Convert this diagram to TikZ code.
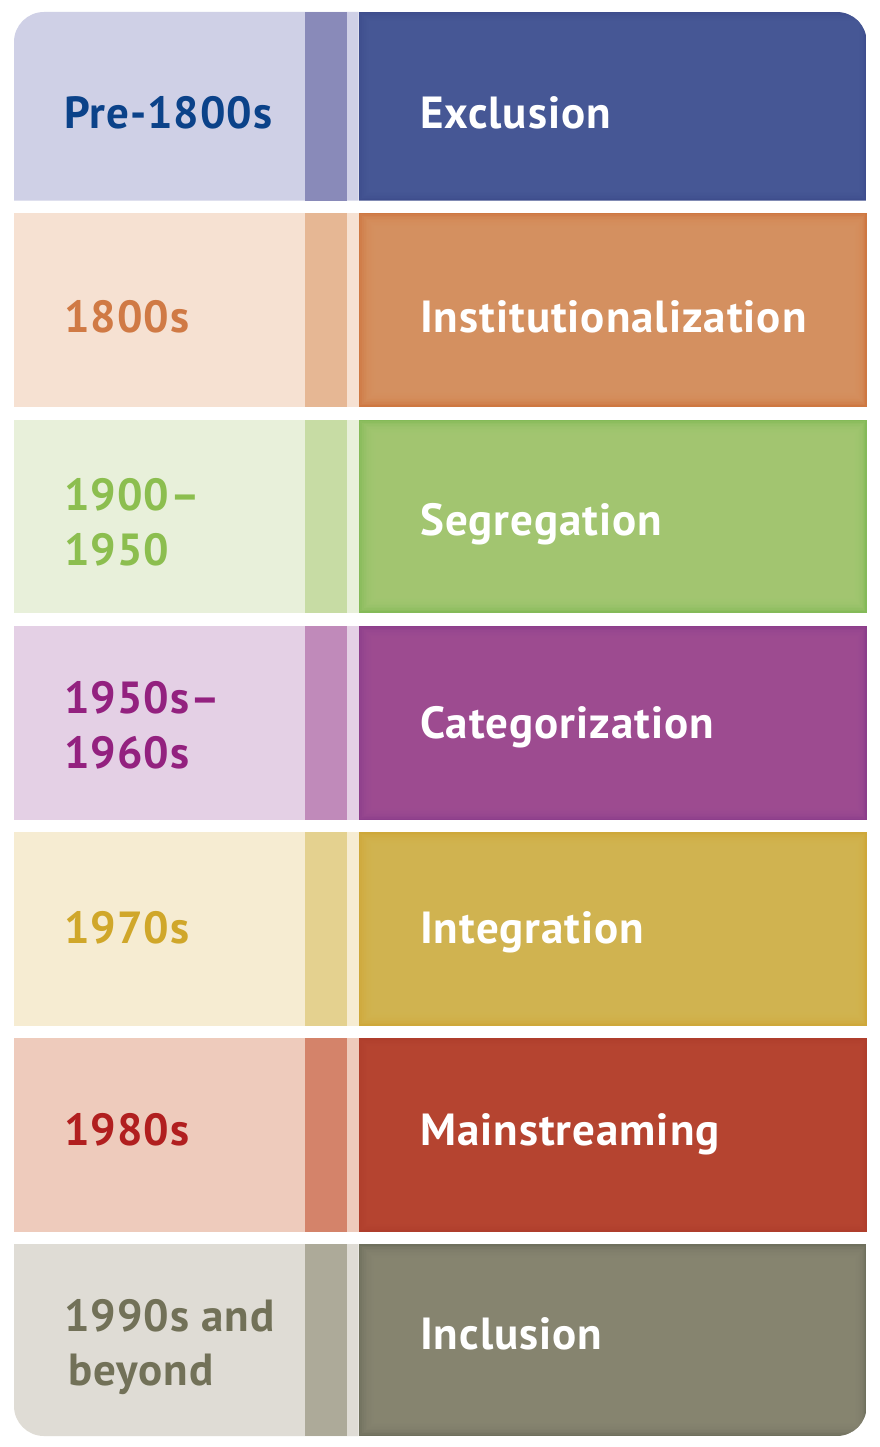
\documentclass[tikz,border=0pt]{standalone}
\usepackage{fontspec}
\setmainfont{PT Sans}[LetterSpace=2.2]
\definecolor{lA}{HTML}{CFD0E6}\definecolor{sA}{HTML}{898AB9}\definecolor{mA}{HTML}{4A5B99}\definecolor{eA}{HTML}{3E4D8C}\definecolor{tA}{HTML}{0B4289}
\definecolor{lB}{HTML}{F6E1D2}\definecolor{sB}{HTML}{E6B794}\definecolor{mB}{HTML}{D89464}\definecolor{eB}{HTML}{CE7842}\definecolor{tB}{HTML}{D07A45}
\definecolor{lC}{HTML}{E8F0DA}\definecolor{sC}{HTML}{C7DCA4}\definecolor{mC}{HTML}{A6C974}\definecolor{eC}{HTML}{84BA58}\definecolor{tC}{HTML}{8CBE4F}
\definecolor{lD}{HTML}{E4D0E5}\definecolor{sD}{HTML}{C08ABA}\definecolor{mD}{HTML}{A14F94}\definecolor{eD}{HTML}{8C3E8B}\definecolor{tD}{HTML}{93217F}
\definecolor{lE}{HTML}{F6ECD2}\definecolor{sE}{HTML}{E4D18F}\definecolor{mE}{HTML}{D4B754}\definecolor{eE}{HTML}{CEA83A}\definecolor{tE}{HTML}{D0A72A}
\definecolor{lF}{HTML}{EECBBC}\definecolor{sF}{HTML}{D4836A}\definecolor{mF}{HTML}{B94834}\definecolor{eF}{HTML}{AF3E2C}\definecolor{tF}{HTML}{B11F1F}
\definecolor{lG}{HTML}{DFDCD5}\definecolor{sG}{HTML}{ADAA99}\definecolor{mG}{HTML}{8A8873}\definecolor{eG}{HTML}{6F705D}\definecolor{tG}{HTML}{727158}
\newcommand\myglow[5]{%
  \foreach \d in {1,...,12}{\fill[#5,opacity=0.24] ({#1+1.7*\d},{#2+1.5*\d}) rectangle ({#3-1.3*\d},{#4-1.5*\d});}}
\tikzset{
  datelabel/.style={anchor=base west,inner sep=0pt,font=\fontsize{45}{54}\selectfont\bfseries},
  phaselabel/.style={anchor=base west,inner sep=0pt,text=white,font=\fontsize{45}{54}\selectfont\bfseries}
}
\begin{document}
\begin{tikzpicture}[x=1pt,y=-1pt]
\fill[white] (0,0) rectangle (879,1447);
\useasboundingbox (0,0) rectangle (879,1447);
% ---------- row 1 ----------
\fill[lA] (358.7,200.7) -- (14,200.7) -- (14,42) arc[start angle=180,end angle=270,radius=30] -- (358.7,12) -- cycle;
\fill[sA] (305,12) rectangle (346.7,200.7);
\begin{scope}
\clip (358.7,200.7) -- (358.7,12) -- (836.7,12) arc[start angle=-90,end angle=0,radius=30] -- (866.7,200.7) -- cycle;
\fill[eA] (358.7,12) rectangle (866.7,200.7);
\myglow{358.7}{12}{866.7}{200.7}{mA}
\end{scope}
% ---------- rows 2-6 ----------
\foreach \yA/\yB/\c in {212.7/406.7/B,419.5/612.7/C,625.7/820/D,832/1025.7/E,1038/1231.7/F}{
  \fill[l\c] (14,\yA) rectangle (358.7,\yB);
  \fill[s\c] (305,\yA) rectangle (346.7,\yB);
  \fill[e\c] (358.7,\yA) rectangle (866.7,\yB);
  \myglow{358.7}{\yA}{866.7}{\yB}{m\c}
}
% ---------- row 7 ----------
\fill[lG] (14,1244) -- (14,1406) arc[start angle=180,end angle=90,radius=30] -- (358.7,1436) -- (358.7,1244) -- cycle;
\fill[sG] (305,1244) rectangle (346.7,1436);
\begin{scope}
\clip (358.7,1244) -- (866.7,1244) -- (866.7,1406) arc[start angle=0,end angle=90,radius=30] -- (358.7,1436) -- cycle;
\fill[eG] (358.7,1244) rectangle (866.7,1436);
\myglow{358.7}{1244}{866.7}{1436}{mG}
\end{scope}
% ---------- labels ----------
\node[datelabel,text=tA] (d1) at (64,129) {Pre-1800s};
\node[datelabel,text=tB] (d2) at (64,332.3) {1800s};
\node[datelabel,text=tC] (d3a) at (64,510.7) {1900–};
\node[datelabel,text=tC] (d3b) at (64,565) {1950};
\node[datelabel,text=tD] (d4a) at (64,713.3) {1950s–};
\node[datelabel,text=tD] (d4b) at (64,768.3) {1960s};
\node[datelabel,text=tE] (d5) at (64,943.3) {1970s};
\node[datelabel,text=tF] (d6) at (64,1145) {1980s};
\node[datelabel,text=tG] (d7a) at (64,1331.7) {1990s and};
\node[datelabel,text=tG] (d7b) at (68,1385) {beyond};
\node[phaselabel] (p1) at (420,128.3) {Exclusion};
\node[phaselabel] (p2) at (420,332.3) {Institutionalization};
\node[phaselabel] (p3) at (420,535.7) {Segregation};
\node[phaselabel] (p4) at (420,738.3) {Categorization};
\node[phaselabel] (p5) at (420,943.3) {Integration};
\node[phaselabel] (p6) at (420,1145) {Mainstreaming};
\node[phaselabel] (p7) at (420,1349.3) {Inclusion};
\end{tikzpicture}
\end{document}
